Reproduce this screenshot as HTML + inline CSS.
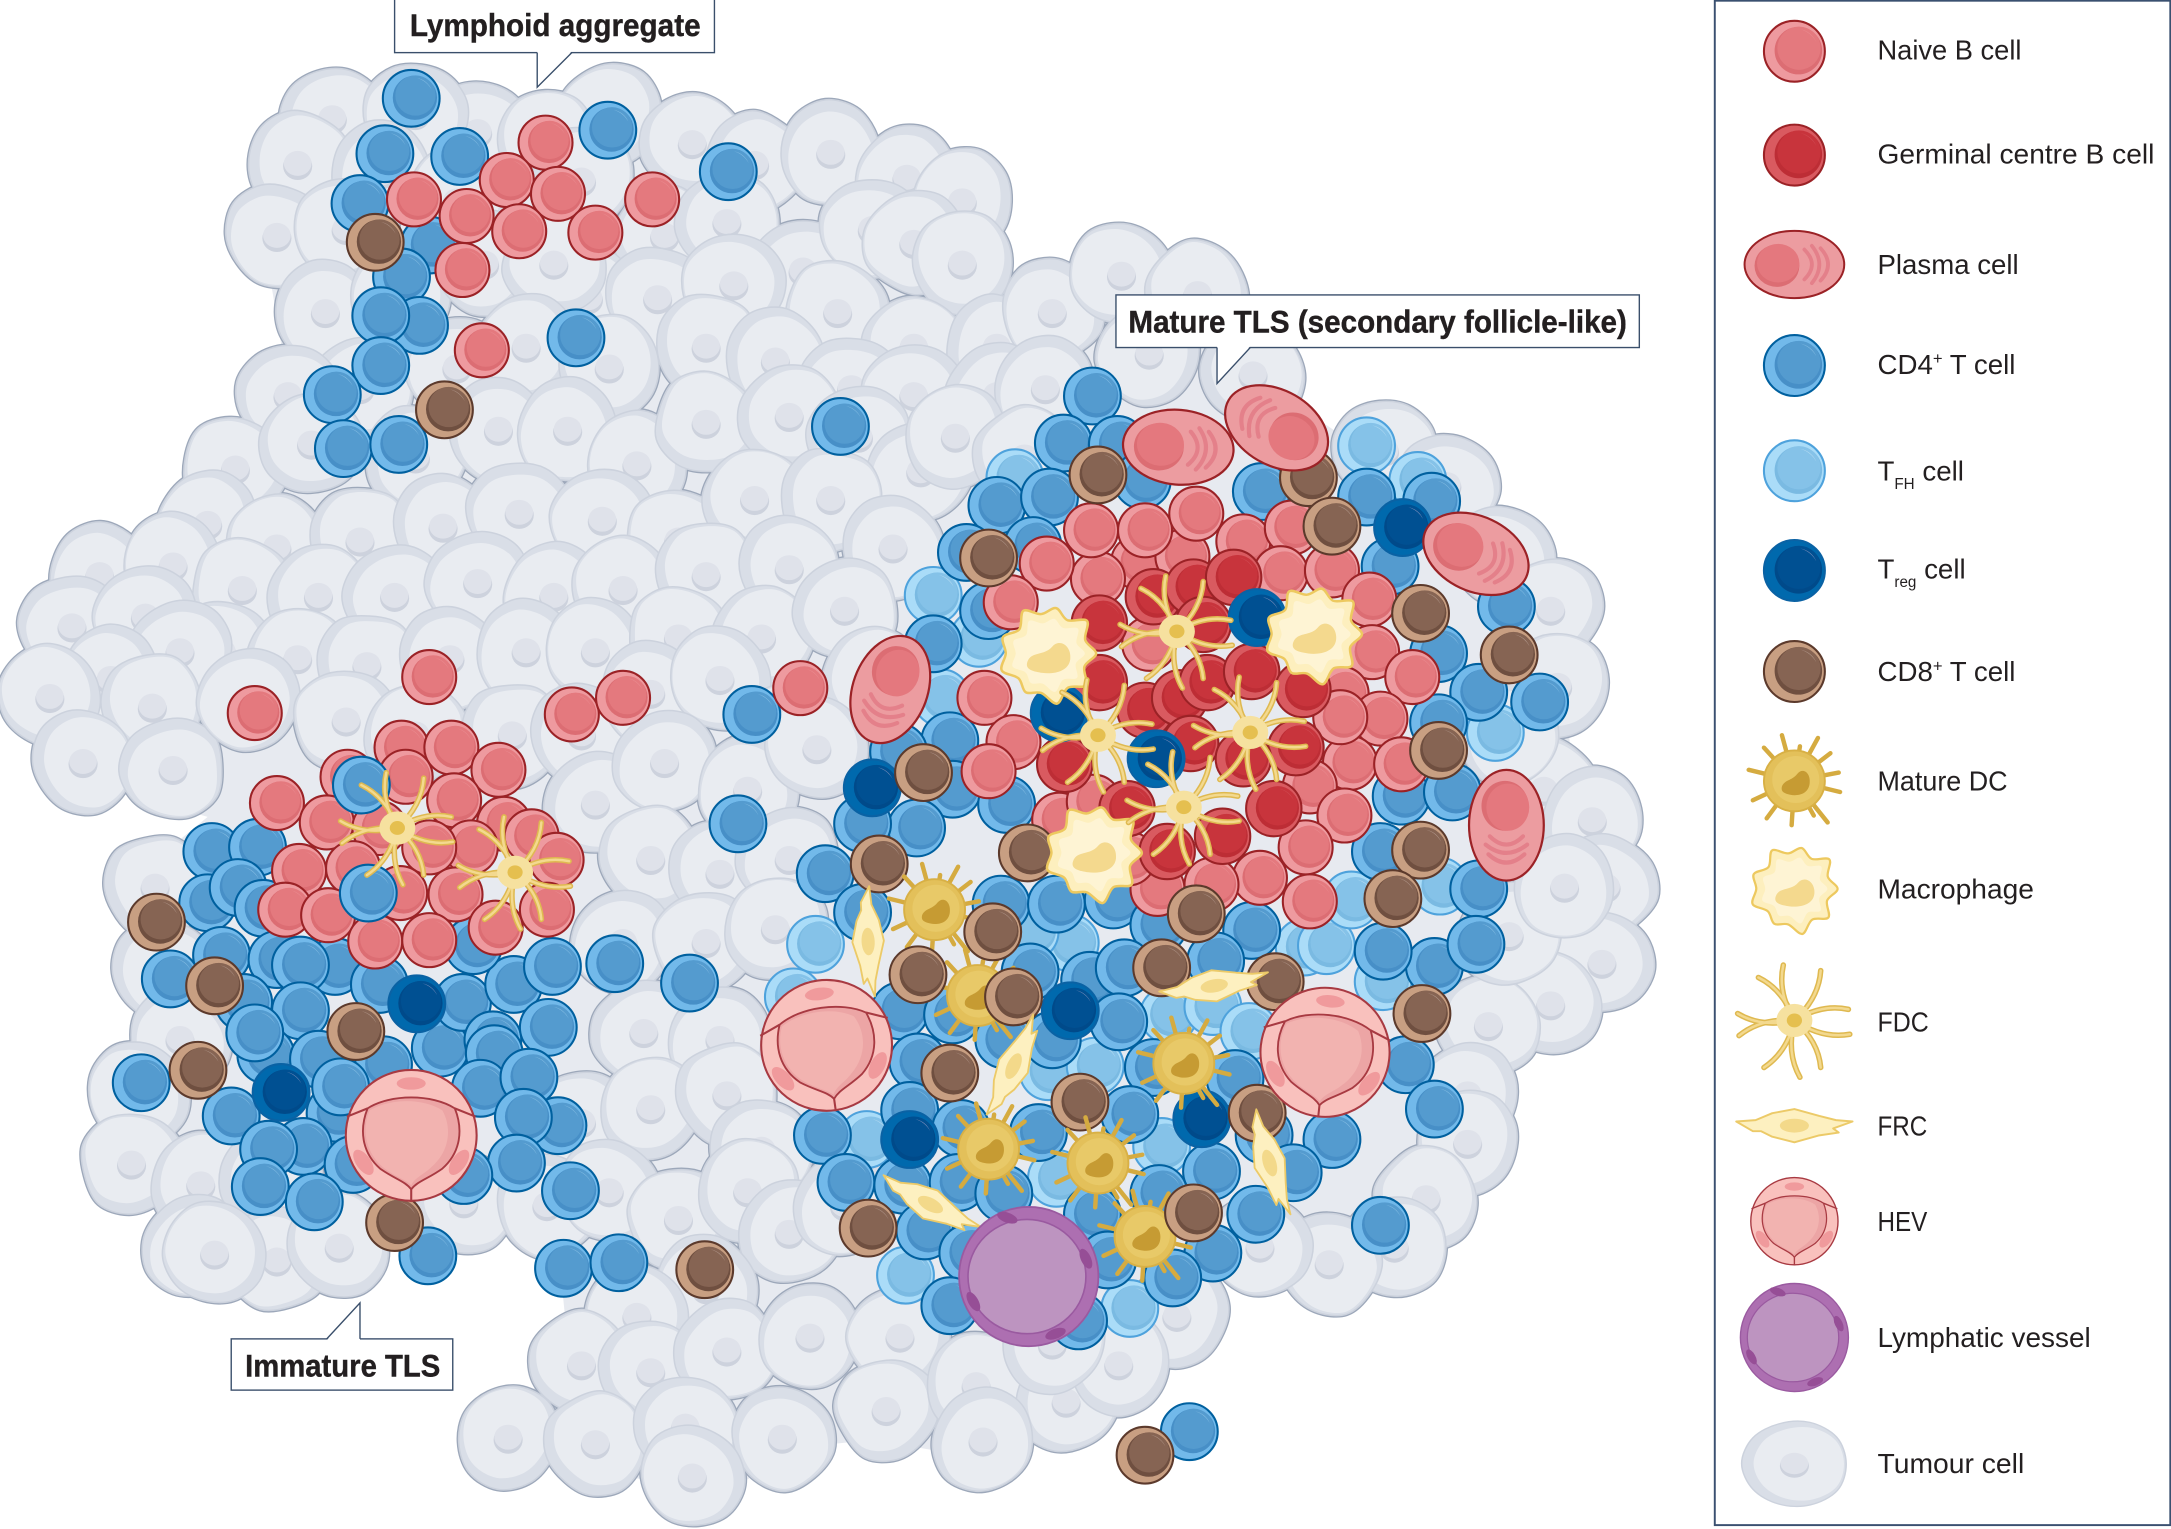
<!DOCTYPE html>
<html lang="en">
<head>
<meta charset="utf-8">
<title>Tertiary lymphoid structures in a tumour</title>
<style>
html,body{margin:0;padding:0;background:#fff}
svg{display:block;width:2171px;height:1529px}
text{font-family:"Liberation Sans",sans-serif;fill:#231f20}
.lg{font-size:20px}
.cb{font-size:23px;font-weight:bold;stroke:#231f20;stroke-width:.3px}
</style>
</head>
<body>
<svg id="scene" xmlns="http://www.w3.org/2000/svg" viewBox="0 0 1568 1104.3">
  <rect x="0" y="0" width="1568" height="1105" fill="#fff"/>
  <path fill="#e7eaf0" d="M225,80 L300,65 L360,85 L410,85 L445,60 L475,75 L560,105 L600,92 L640,115 L705,130 L715,190 L700,230 L740,210 L780,185 L830,180 L890,200 L925,285 L985,325 L1055,345 L1085,395 L1125,440 L1135,550 L1150,590 L1165,640 L1160,695 L1120,725 L1075,745 L1045,810 L1010,900 L960,915 L880,925 L825,985 L790,1025 L720,1055 L630,1040 L580,1045 L520,1080 L470,1070 L405,1055 L365,1030 L410,970 L400,870 L340,870 L270,895 L200,925 L140,905 L85,840 L110,770 L110,700 L95,635 L150,590 L45,560 L25,500 L55,430 L140,370 L180,320 L205,260 L190,170 Z"/>
  <g id="tumour-outline"></g>
  <g id="tumour-layer"></g>
  <g id="immune-layer"></g>

  <g>
    <rect x="285" y="-2" width="231" height="40" fill="#fff" stroke="#3a4f6b" stroke-width="1"/>
    <polygon points="388,37 388,63 413,37" fill="#fff"/>
    <polyline points="388,38 388,63 413,38" fill="none" stroke="#3a4f6b" stroke-width="1"/>
    <text class="cb" x="296" y="26" textLength="210" lengthAdjust="spacingAndGlyphs">Lymphoid aggregate</text>
  </g>
  <g>
    <rect x="806" y="213" width="378" height="38" fill="#fff" stroke="#3a4f6b" stroke-width="1"/>
    <polygon points="879,250 879,277 903,250" fill="#fff"/>
    <polyline points="879,251 879,277 903,251" fill="none" stroke="#3a4f6b" stroke-width="1"/>
    <text class="cb" x="815" y="240" textLength="360" lengthAdjust="spacingAndGlyphs">Mature TLS (secondary follicle-like)</text>
  </g>
  <g>
    <rect x="167" y="967" width="160" height="37" fill="#fff" stroke="#3a4f6b" stroke-width="1"/>
    <polygon points="236,968 260,941 260,968" fill="#fff"/>
    <polyline points="236,967 260,941 260,967" fill="none" stroke="#3a4f6b" stroke-width="1"/>
    <text class="cb" x="177" y="994" textLength="141" lengthAdjust="spacingAndGlyphs">Immature TLS</text>
  </g>

  <g id="legend">
    <rect x="1238.5" y="0.5" width="329" height="1101" fill="#fff" stroke="#3a5070" stroke-width="1.4"/>
    <text class="lg" x="1356" y="43" textLength="104" lengthAdjust="spacingAndGlyphs">Naive B cell</text>
    <text class="lg" x="1356" y="118" textLength="200" lengthAdjust="spacingAndGlyphs">Germinal centre B cell</text>
    <text class="lg" x="1356" y="198" textLength="102" lengthAdjust="spacingAndGlyphs">Plasma cell</text>
    <text class="lg" x="1356" y="270">CD4<tspan font-size="12" dy="-7">+</tspan><tspan dy="7"> T cell</tspan></text>
    <text class="lg" x="1356" y="347">T<tspan font-size="11" dy="6">FH</tspan><tspan dy="-6"> cell</tspan></text>
    <text class="lg" x="1356" y="418">T<tspan font-size="11" dy="6">reg</tspan><tspan dy="-6"> cell</tspan></text>
    <text class="lg" x="1356" y="492">CD8<tspan font-size="12" dy="-7">+</tspan><tspan dy="7"> T cell</tspan></text>
    <text class="lg" x="1356" y="571" textLength="94" lengthAdjust="spacingAndGlyphs">Mature DC</text>
    <text class="lg" x="1356" y="649" textLength="113" lengthAdjust="spacingAndGlyphs">Macrophage</text>
    <text class="lg" x="1356" y="745" textLength="37" lengthAdjust="spacingAndGlyphs">FDC</text>
    <text class="lg" x="1356" y="820" textLength="36" lengthAdjust="spacingAndGlyphs">FRC</text>
    <text class="lg" x="1356" y="889" textLength="36" lengthAdjust="spacingAndGlyphs">HEV</text>
    <text class="lg" x="1356" y="973" textLength="154" lengthAdjust="spacingAndGlyphs">Lymphatic vessel</text>
    <text class="lg" x="1356" y="1064" textLength="106" lengthAdjust="spacingAndGlyphs">Tumour cell</text>
  </g>
</svg>
<script>
const tumourCells=[
[240,85],[345,95],[300,82],[440,83],[395,103],[215,118],[275,125],[200,170],[250,165],[330,145],[500,103],[545,118],[600,110],[655,128],[695,145],[480,170],[525,160],[580,195],[630,165],[660,175],[695,190],[420,130],[425,215],[475,215],[530,205],[605,225],[660,250],[720,250],[235,225],[290,210],[350,190],[400,190],[260,280],[208,285],[330,265],[380,250],[440,265],[510,250],[560,260],[615,280],[660,285],
[170,338],[225,320],[300,330],[360,310],[410,310],[460,335],[510,305],[570,300],[620,315],[665,340],[150,378],[200,395],[260,390],[320,380],[375,370],[435,375],[490,390],[545,360],[600,360],[645,395],
[72,415],[125,408],[175,425],[230,430],[285,430],[345,420],[400,430],[450,425],[510,415],[570,410],[52,452],[105,445],[160,470],[215,475],[265,480],[325,475],[380,470],[430,470],[490,460],[550,460],[610,440],
[130,470],[80,490],[36,503],[110,510],[60,550],[125,555],[180,505],[250,520],[300,530],[370,530],[420,530],[470,500],[520,490],[570,530],[630,490],
[430,580],[480,550],[540,570],[590,540],[470,620],[520,630],[570,620],[450,680],[510,680],[560,670],[112,640],[118,700],[130,750],[100,790],[95,840],[145,855],[195,850],[140,900],[200,910],[155,905],[245,900],[335,868],[465,745],[520,750],[420,810],[470,800],[525,790],[550,830],[395,870],[440,860],[490,880],[540,860],[570,890],[610,870],[510,930],[460,950],[420,985],[470,990],[525,975],[585,965],[650,965],[367,1038],[430,1042],[495,1030],[565,1038],[500,1066],[640,1018],[705,1000],[770,1012],[710,1040],
[760,225],[810,198],[865,212],[905,270],[720,285],[755,280],[830,255],[690,315],[740,330],[1000,325],[1045,350],[1085,402],[1120,440],[1125,495],[1115,570],[1150,592],[1160,640],[1157,695],[1120,725],[1075,740],[1090,675],[1130,640],[1060,790],[1060,825],[1030,865],[1007,900],[960,912],[910,900],[850,950],[808,985],[760,970],[1090,530]
];
const tfhCells=[[987,322],[1024,347],[733,345],[674,430],[707,461],[680,504],[1080,529],[589,682],[573,720],[773,681],[744,673],[757,774],[791,770],[844,733],[876,727],[902,745],[942,684],[958,683],[999,709],[626,823],[839,828],[763,851],[654,921],[816,945],[976,650],[1040,640]];
const cd4Cells=[[297,71],[278,111],[332,113],[439,94],[526,124],[260,147],[310,177],[290,200],[303,235],[275,228],[275,264],[240,285],[248,324],[288,321],[416,244],[607,308],[543,516],[533,595],[859,1034],
[153,615],[186,612],[150,652],[172,641],[190,656],[160,690],[123,707],[200,693],[242,698],[217,697],[176,724],[217,730],[274,711],[192,762],[184,746],[230,765],[277,769],[318,757],[334,724],[371,711],[399,698],[444,696],[498,710],[342,683],[356,751],[357,761],[396,742],[347,786],[382,778],[403,813],[378,807],[373,840],[412,860],[335,849],[242,804],[246,785],[167,806],[219,828],[194,830],[255,841],[188,857],[227,868],[102,782],[309,907],[407,916],[447,912],
[789,286],[768,320],[807,321],[825,347],[911,355],[720,365],[758,359],[987,359],[1034,362],[1004,409],[698,399],[746,394],[714,441],[1088,438],[1039,472],[1068,500],[1112,507],[1039,522],[674,465],[686,535],[649,543],[688,570],[727,581],[662,598],[623,595],[1012,575],[1049,572],[997,615],[1068,642],[1036,698],[999,687],[1066,682],
[596,631],[623,659],[723,653],[763,653],[804,650],[837,668],[904,672],[744,702],[787,708],[812,699],[878,694],[650,730],[688,733],[808,738],[663,767],[760,751],[725,751],[833,771],[892,779],[816,805],[875,846],[913,820],[962,823],[1015,769],[1036,801],[997,885],[907,877],[934,847],[594,820],[611,854],[657,802],[694,815],[652,856],[692,854],[725,862],[750,818],[789,877],[837,862],[876,905],[847,923],[800,910],[668,889],[699,905],[686,943],[779,954]
];
const naiveCells=[[394,103],[366,130],[403,140],[299,144],[337,156],[375,167],[430,168],[471,144],[334,195],[348,253],[184,515],[310,489],[413,516],[450,504],[578,497],
[290,540],[326,540],[360,556],[251,561],[293,561],[200,580],[328,578],[236,594],[274,598],[364,595],[384,604],[340,612],[310,612],[402,621],[216,629],[255,627],[206,657],[237,661],[289,645],[329,646],[358,670],[395,657],[271,680],[310,679],
[822,406],[854,402],[793,418],[756,407],[788,383],[827,383],[864,371],[898,391],[933,381],[925,414],[962,412],[730,435],[989,433],[991,471],[1020,489],[969,501],[997,519],[711,504],[732,536],[714,557],[975,551],[1012,552],[946,568],[971,589],[943,612],[910,634],[946,651],[875,639],[836,642],[765,592],[790,579],[968,518],[830,465],[815,620]
];
const germinalCells=[[794,450],[833,431],[862,424],[891,417],[869,451],[794,493],[827,513],[852,504],[872,493],[904,485],[941,498],[936,540],[860,537],[769,552],[898,548],[920,584],[814,584],[843,615],[883,604]];
const tregCells=[[1013,381],[908,446],[765,515],[835,548],[630,569],[773,730],[868,808],[657,823],[301,725],[203,789]];
const cd8Cells=[[271,175],[321,296],[113,666],[155,712],[257,745],[143,773],[285,883],[793,343],[945,345],[714,403],[1026,443],[1090,473],[1039,542],[667,558],[1026,614],[1006,649],[635,624],[742,616],[864,660],[839,699],[921,709],[1027,732],[686,775],[780,796],[908,804],[627,887],[509,917],[827,1051]];
const cd4OverCells=[[261,567],[266,645]];
const cd8OverCells=[[962,380],[717,673],[663,704],[732,720],[862,876]];
const plasmaCells=[[851,323,5],[922,309,210],[1066,400,25],[1088,596,90],[643,498,110]];
const macrophageCells=[[757,472],[949,458],[790,616]];
const fdcCells=[[850,456],[793,531],[903,529],[855,583],[287,598],[372,630]];
const dcCells=[[675,657],[706,719],[855,768],[714,830],[793,840],[827,893]];
const frcCells=[[627,680,87],[877,712,-10],[732,770,-65],[917,840,72],[672,870,28]];
const hevCells=[[297,820,1.5,0],[597,755,1.5,-8],[957,760,1.48,6]];
const lymphaticVessels=[[743,922,1.29]];

const tumourShapes=[
[1.01,1.04,.99,.97,1.0,1.03,1.0,.95,.98,1.02],
[1.06,.99,.95,1.0,1.03,.98,.96,1.01,1.04,1.0],
[.96,1.01,1.05,1.0,.95,.99,1.04,1.03,.97,.97],
[1.0,.95,1.0,1.06,1.03,.96,1.0,1.03,.95,1.02]
];
const macrophageShape=[1.02,.82,1.05,.84,1.08,.85,.95,.82,1.05,.9,1.02,.8,1.05,.85,.98,.82,1.08,.84];
const fdcArms=[[-41,-5],[-40,11],[-22,34],[4,41],[19,34],[40,10],[39,-8],[19,-36],[-8,-40],[-26,-31]];
const dcSpikes=[[-33,-8],[-30,14],[-20,27],[-2,32],[14,25],[24,30],[33,8],[32,-6],[26,-20],[17,-31],[4,-25],[-9,-33],[-22,-24]];

const NS='http://www.w3.org/2000/svg';
function el(tag,attrs,parent){
  const e=document.createElementNS(NS,tag);
  for(const k in attrs){e.setAttribute(k,attrs[k]);}
  parent.appendChild(e);
  return e;
}
function blobPath(radii,R){
  const n=radii.length,p=[];
  for(let i=0;i<n;i++){
    const a=i/n*Math.PI*2;
    p.push([Math.cos(a)*radii[i]*R,Math.sin(a)*radii[i]*R]);
  }
  let d='M'+p[0][0].toFixed(1)+','+p[0][1].toFixed(1);
  for(let i=0;i<n;i++){
    const p0=p[(i-1+n)%n],p1=p[i],p2=p[(i+1)%n],p3=p[(i+2)%n];
    const c1=[p1[0]+(p2[0]-p0[0])/6,p1[1]+(p2[1]-p0[1])/6];
    const c2=[p2[0]-(p3[0]-p1[0])/6,p2[1]-(p3[1]-p1[1])/6];
    d+='C'+c1[0].toFixed(1)+','+c1[1].toFixed(1)+' '+c2[0].toFixed(1)+','+c2[1].toFixed(1)+' '+p2[0].toFixed(1)+','+p2[1].toFixed(1);
  }
  return d+'Z';
}
const lymphStyles={
  naive:{o:'#ee9a9f',i:'#e4797e',d:'#dc6d73',s:'#9b2226',h:'#ea8c91'},
  germinal:{o:'#d95a60',i:'#c8343c',d:'#bd2d35',s:'#9b2226',h:'#d04c54'},
  cd4:{o:'#72b9ea',i:'#549bcf',d:'#478fc7',s:'#00609f',h:'#84bde3'},
  tfh:{o:'#aadcf8',i:'#85c2e8',d:'#7abae2',s:'#4ea2dc',h:'#b7dcf2'},
  treg:{o:'#0069ad',i:'#005092',d:'#004a8a',s:'#0a62a4',h:'#7d8fbc'},
  cd8:{o:'#c89f82',i:'#866453',d:'#6f4f40',s:'#5c3a2c',h:'#b0968a'}
};
function lymph(parent,x,y,r,k){
  const st=lymphStyles[k];
  const g=el('g',{transform:'translate('+x+','+y+')'},parent);
  el('circle',{r:r,fill:st.o,stroke:st.s,'stroke-width':1.5},g);
  el('circle',{cx:r*.13,cy:r*-.02,r:r*.78,fill:st.d},g);
  el('circle',{cx:r*.15,cy:r*-.1,r:r*.71,fill:st.i},g);
  el('path',{d:'M'+(r*.2)+','+(r*-.72)+'A'+(r*.7)+','+(r*.7)+' 0 0 1 '+(r*.72)+','+(r*-.3)+'A'+(r*.9)+','+(r*.9)+' 0 0 0 '+(r*.2)+','+(r*-.72)+'Z',fill:st.h},g);
  return g;
}
function tumourOutline(parent,x,y,i){
  const rot=(i*67)%360;
  el('path',{d:blobPath(tumourShapes[i%4],37),transform:'translate('+x+','+y+') rotate('+rot+')',fill:'#e9ecf1',stroke:'#9da8ba','stroke-width':3,'stroke-linejoin':'round'},parent);
}
function tumour(parent,x,y,i,s){
  const rot=(i*67)%360,sc=s||1;
  const g=el('g',{transform:'translate('+x+','+y+') scale('+sc+')'},parent);
  const shape=tumourShapes[i%4];
  el('path',{d:blobPath(shape,37),transform:'rotate('+rot+')',fill:'#d9dee7',stroke:'#ccd2dd','stroke-width':1.1},g);
  const a=rot*Math.PI/180;
  el('path',{d:blobPath(shape,32),transform:'translate('+(Math.cos(a)*3.5)+','+(Math.sin(a)*3.5)+') rotate('+rot+')',fill:'#e9ecf1'},g);
  el('ellipse',{cx:0,cy:2,rx:10.5,ry:10,fill:'#cdd2dd'},g);
  el('ellipse',{cx:0,cy:0,rx:10,ry:9,fill:'#dfe2ea'},g);
  return g;
}
function plasma(parent,x,y,rot,s){
  const g=el('g',{transform:'translate('+x+','+y+') rotate('+rot+') scale('+s+')'},parent);
  el('ellipse',{rx:40,ry:27,fill:'#ec9ca0',stroke:'#9b2226','stroke-width':1.6},g);
  el('ellipse',{cx:-14,cy:1,rx:18,ry:17,fill:'#dc6d73'},g);
  el('ellipse',{cx:-13,cy:-1,rx:17,ry:15.5,fill:'#e4787e'},g);
  [[6,12],[12,15],[19,13]].forEach(function(a){
    el('path',{d:'M'+(a[0]+2)+','+(-a[1])+'Q'+(a[0]+14)+',0 '+(a[0]+2)+','+a[1],fill:'none',stroke:'#e4808a','stroke-width':3,'stroke-linecap':'round'},g);
  });
  return g;
}
function macrophage(parent,x,y,s){
  const g=el('g',{transform:'translate('+x+','+y+') scale('+s+')'},parent);
  el('path',{d:blobPath(macrophageShape,34),fill:'#fdefbe',stroke:'#edc95f','stroke-width':1.8},g);
  el('path',{d:blobPath(macrophageShape,26),fill:'#fef4d4'},g);
  el('path',{d:'M-15,6C-12,-2 -3,2 3,-5C8,-11 17,-6 16,4C15,13 4,15 -4,14C-10,13 -17,12 -15,6Z',fill:'#f4d98e'},g);
  return g;
}
function fdc(parent,x,y,s){
  const g=el('g',{transform:'translate('+x+','+y+') scale('+s+')'},parent);
  function armPath(a,i){
    const sign=i%2?1:-1;
    const mx=a[0]*.55-a[1]*.2*sign,my=a[1]*.55+a[0]*.2*sign;
    return 'M0,0Q'+mx.toFixed(1)+','+my.toFixed(1)+' '+a[0]+','+a[1];
  }
  fdcArms.forEach(function(a,i){
    el('path',{d:armPath(a,i),fill:'none',stroke:'#dfb950','stroke-width':4,'stroke-linecap':'round'},g);
  });
  fdcArms.forEach(function(a,i){
    el('path',{d:armPath(a,i),fill:'none',stroke:'#f3d98f','stroke-width':1.8,'stroke-linecap':'round'},g);
  });
  el('ellipse',{rx:13,ry:12,fill:'#f6e19f'},g);
  el('ellipse',{rx:5.5,ry:5,fill:'#e5bf4f'},g);
  return g;
}
function dc(parent,x,y,s){
  const g=el('g',{transform:'translate('+x+','+y+') scale('+s+')'},parent);
  dcSpikes.forEach(function(a){
    el('path',{d:'M0,0L'+a[0]+','+a[1],stroke:'#d5ab40','stroke-width':3.2,'stroke-linecap':'round',fill:'none'},g);
  });
  el('circle',{r:22,fill:'#e3c05a',stroke:'#d8b045','stroke-width':1.4},g);
  el('circle',{cx:1,cy:-1,r:17,fill:'#e8c968'},g);
  el('path',{d:'M-9,4C-7,-1 -2,0 2,-5C6,-10 12,-6 11,2C10,10 2,11 -3,10C-7,9 -10,8 -9,4Z',fill:'#c69b33'},g);
  return g;
}
function frc(parent,x,y,rot,s){
  const g=el('g',{transform:'translate('+x+','+y+') rotate('+rot+') scale('+s+')'},parent);
  el('path',{d:'M-42,-3L-28,-4L-16,-9L0,-12L18,-7L30,-4L42,-3L28,2L32,5L18,7L0,12L-16,8L-24,4L-30,4Z',fill:'#fdf0c0',stroke:'#ecca68','stroke-width':1.4,'stroke-linejoin':'round'},g);
  el('ellipse',{rx:10.5,ry:5,fill:'#f3d98a'},g);
  return g;
}
function hev(parent,x,y,s,rot){
  const g=el('g',{transform:'translate('+x+','+y+') rotate('+rot+') scale('+s+')'},parent);
  el('circle',{r:31.5,fill:'#f9c1bd',stroke:'#a83a42','stroke-width':1},g);
  el('path',{d:'M-21,-13C-10,-20 10,-20 21,-13C25,-3 24,8 15,16C8,21 3,22 0,26C-3,22 -8,21 -15,16C-24,8 -25,-3 -21,-13Z',fill:'#eca5a5',stroke:'#a83a42','stroke-width':.9},g);
  el('path',{d:'M-20,-12C-10,-18 6,-18 15,-12C20,-3 18,8 10,15C6,19 2,20 0,24C-3,21 -8,20 -14,15C-22,8 -24,-3 -20,-12Z',fill:'#f2b3b0'},g);
  el('path',{d:'M21,-13L31,-9M-21,-13L-31,-9M0,26L0,32',stroke:'#a83a42','stroke-width':1,fill:'none'},g);
  el('ellipse',{cx:0,cy:-25,rx:7,ry:3,fill:'#f09a9c'},g);
  el('ellipse',{cx:-23,cy:13,rx:3.5,ry:7,transform:'rotate(-35 -23 13)',fill:'#f09a9c'},g);
  el('ellipse',{cx:23,cy:13,rx:3.5,ry:7,transform:'rotate(35 23 13)',fill:'#f09a9c'},g);
  return g;
}
function lymphatic(parent,x,y,s){
  const g=el('g',{transform:'translate('+x+','+y+') scale('+s+')'},parent);
  el('circle',{r:39,fill:'#ad6fb1',stroke:'#9a5aa0','stroke-width':1},g);
  el('ellipse',{cx:-1,cy:0,rx:33,ry:32,fill:'#bd94c0',stroke:'#9a5aa0','stroke-width':.9},g);
  [[-12,-33,20],[32,-10,65],[-31,14,60],[15,32,-20]].forEach(function(a){
    el('ellipse',{cx:a[0],cy:a[1],rx:6,ry:2.8,transform:'rotate('+a[2]+' '+a[0]+' '+a[1]+')',fill:'#964e96'},g);
  });
  return g;
}

const outlineLayer=document.getElementById('tumour-outline');
const tumourLayer=document.getElementById('tumour-layer');
const immuneLayer=document.getElementById('immune-layer');
const legend=document.getElementById('legend');

tumourCells.forEach(function(c,i){
  tumourOutline(outlineLayer,c[0],c[1],i);
});
tumourCells.forEach(function(c,i){
  const g=tumour(tumourLayer,c[0],c[1],i,1);
  
  
});
function addLymphs(list,kind,label,r){
  list.forEach(function(c){
    const g=lymph(immuneLayer,c[0],c[1],r,kind);
    
    
  });
}
addLymphs(tfhCells,'tfh','tfh-cell',20.5);
addLymphs(cd4Cells,'cd4','cd4-t-cell',20.5);
addLymphs(naiveCells,'naive','naive-b-cell',19.5);
addLymphs(germinalCells,'germinal','germinal-centre-b-cell',20);
addLymphs(cd4OverCells,'cd4','cd4-t-cell',20.5);
addLymphs(tregCells,'treg','treg-cell',20.5);
addLymphs(cd8Cells,'cd8','cd8-t-cell',20.5);
plasmaCells.forEach(function(c){
  const g=plasma(immuneLayer,c[0],c[1],c[2],1);
  
  
});
addLymphs(cd8OverCells.slice(0,1),'cd8','cd8-t-cell',20.5);
macrophageCells.forEach(function(c){
  const g=macrophage(immuneLayer,c[0],c[1],1);
  
  
});
fdcCells.forEach(function(c){
  const g=fdc(immuneLayer,c[0],c[1],1);
  
  
});
dcCells.forEach(function(c){
  const g=dc(immuneLayer,c[0],c[1],1);
  
  
});
addLymphs(cd8OverCells.slice(1),'cd8','cd8-t-cell',20.5);
frcCells.forEach(function(c){
  const g=frc(immuneLayer,c[0],c[1],c[2],.95);
  
  
});
hevCells.forEach(function(c){
  const g=hev(immuneLayer,c[0],c[1],c[2],c[3]);
  
  
});
lymphaticVessels.forEach(function(c){
  const g=lymphatic(immuneLayer,c[0],c[1],c[2]);
  
  
});

const iconX=1296;
let icon;
icon=lymph(legend,iconX,37,22,'naive');


icon=lymph(legend,iconX,112,22,'germinal');


icon=plasma(legend,iconX,191,0,.9);


icon=lymph(legend,iconX,264,22,'cd4');


icon=lymph(legend,iconX,340,22,'tfh');


icon=lymph(legend,iconX,412,22,'treg');


icon=lymph(legend,iconX,485,22,'cd8');


icon=dc(legend,iconX,564,1);


icon=macrophage(legend,iconX,642,.9);


icon=fdc(legend,iconX,737,1);


icon=frc(legend,iconX,813,0,1);


icon=hev(legend,iconX,882,1,0);


icon=lymphatic(legend,iconX,966,1);


icon=tumour(legend,iconX,1057,0,1);
icon.setAttribute('transform','translate(1296,1057) scale(1,.86)');


</script>
</body>
</html>
